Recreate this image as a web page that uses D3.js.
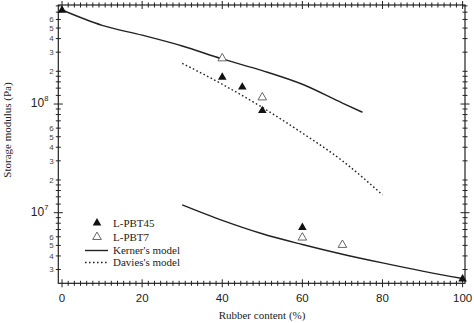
<!DOCTYPE html>
<html>
<head>
<meta charset="utf-8">
<script src="https://cdn.jsdelivr.net/npm/d3@7"></script>
<style>
  body { margin: 0; background: #fff; }
  svg { display: block; }
</style>
</head>
<body>
<div id="vis"></div>
<script>
// measured points
const pbt45X = [0, 40, 45, 50, 60, 100];
const pbt45Y = [7.3e8, 1.76e8, 1.43e8, 8.7e7, 7.3e6, 2.45e6];
const pbt7X = [40, 50, 60, 70];
const pbt7Y = [2.63e8, 1.15e8, 5.9e6, 5.05e6];

// model curves
const kernerUpX = [0, 10, 20, 30, 40, 50, 60, 70, 75];
const kernerUpY = [7.33e8, 5.3e8, 4.3e8, 3.42e8, 2.6e8, 2.03e8, 1.52e8, 1.02e8, 8.4e7];
const kernerLowX = [30, 40, 50, 60, 70, 80, 90, 100];
const kernerLowY = [1.18e7, 8.5e6, 6.4e6, 5.1e6, 4.15e6, 3.45e6, 2.9e6, 2.48e6];
const daviesX = [30, 40, 50, 60, 70, 80];
const daviesY = [2.37e8, 1.52e8, 9.3e7, 5.4e7, 3.0e7, 1.46e7];

const xTicks = [0, 20, 40, 60, 80, 100];
const decades = [1e6, 1e7, 1e8];
const decadeExp = [6, 7, 8];
const minorMult = [1.2, 1.4, 1.6, 1.8, 2, 3, 4, 5, 6, 7, 8, 9];
const labelMult = [2, 3, 4, 5, 6];
const legendNames = ['L-PBT45', 'L-PBT7', "Kerner's model", "Davies's model"];

const width = 474, height = 323;
const box = {left: 58.3, right: 465, top: 5, bottom: 283.3};

const svg = d3.select('#vis').append('svg')
    .attr('width', width)
    .attr('height', height);

const x = d3.scaleLinear()
    .domain([-0.93, 100.6])
    .range([box.left, box.right]);

const y = d3.scaleLog()
    .domain([2.24e6, 8.15e8])
    .range([box.bottom, box.top]);

const ink = '#222';

// frame
svg.append('rect')
    .attr('x', box.left)
    .attr('y', box.top)
    .attr('width', box.right - box.left)
    .attr('height', box.bottom - box.top)
    .attr('fill', 'none')
    .attr('stroke', ink)
    .attr('stroke-width', 1.2);

// x ticks, major + 12 minor between each pair
const xMinor = [];
for (let i = 0; i < xTicks.length - 1; i++) {
  const step = (xTicks[i + 1] - xTicks[i]) / 13;
  for (let k = 1; k < 13; k++) xMinor.push(xTicks[i] + k * step);
}

const tickG = svg.append('g')
    .attr('stroke', ink)
    .attr('stroke-width', 1);

[box.bottom, box.top].forEach(yy => {
  tickG.selectAll(null)
    .data(xMinor)
    .join('line')
      .attr('x1', d => x(d))
      .attr('x2', d => x(d))
      .attr('y1', yy - 2.5)
      .attr('y2', yy + 2.5);
  tickG.selectAll(null)
    .data(xTicks)
    .join('line')
      .attr('x1', d => x(d))
      .attr('x2', d => x(d))
      .attr('y1', yy - 4)
      .attr('y2', yy + 4);
});

svg.append('g')
  .selectAll('text')
  .data(xTicks)
  .join('text')
    .attr('x', d => x(d))
    .attr('y', 302)
    .attr('text-anchor', 'middle')
    .attr('font-family', 'Liberation Sans, Arial, sans-serif')
    .attr('font-size', 11.5)
    .attr('fill', ink)
    .text(d => d);

// y ticks
const [y0, y1] = y.domain();
const yMinor = [];
decades.forEach(dec => minorMult.forEach(m => {
  const v = dec * m;
  if (v > y0 && v < y1) yMinor.push(v);
}));
const yMajor = decades.filter(v => v > y0 && v < y1);

[box.left, box.right].forEach(xx => {
  tickG.selectAll(null)
    .data(yMinor)
    .join('line')
      .attr('x1', xx - 2.5)
      .attr('x2', xx + 2.5)
      .attr('y1', d => y(d))
      .attr('y2', d => y(d));
  tickG.selectAll(null)
    .data(yMajor)
    .join('line')
      .attr('x1', xx - 4.5)
      .attr('x2', xx + 4.5)
      .attr('y1', d => y(d))
      .attr('y2', d => y(d));
});

const yLabels = [];
decades.forEach(dec => labelMult.forEach(m => {
  const v = dec * m;
  if (v > y0 && v < y1) yLabels.push({v, m});
}));

svg.append('g')
  .selectAll('text')
  .data(yLabels)
  .join('text')
    .attr('x', box.left - 4.5)
    .attr('y', d => y(d.v))
    .attr('dy', '0.35em')
    .attr('text-anchor', 'end')
    .attr('font-family', 'Liberation Sans, Arial, sans-serif')
    .attr('font-size', 8)
    .attr('fill', '#444')
    .text(d => d.m);

const decLabel = svg.append('g')
  .selectAll('text')
  .data(d3.zip(decades, decadeExp).filter(([v]) => v > y0 && v < y1))
  .join('text')
    .attr('x', box.left - 10)
    .attr('y', d => y(d[0]) + 3)
    .attr('text-anchor', 'end')
    .attr('font-family', 'Liberation Sans, Arial, sans-serif')
    .attr('font-size', 12)
    .attr('fill', ink);
decLabel.append('tspan').text('10');
decLabel.append('tspan')
    .attr('dy', -6)
    .attr('font-size', 7.5)
    .text(d => d[1]);

// axis titles
svg.append('text')
    .attr('x', 262)
    .attr('y', 319)
    .attr('text-anchor', 'middle')
    .attr('font-family', 'Liberation Serif, Times New Roman, serif')
    .attr('font-size', 11)
    .attr('fill', ink)
    .text('Rubber content (%)');

svg.append('text')
    .attr('transform', 'translate(11,130) rotate(-90)')
    .attr('text-anchor', 'middle')
    .attr('font-family', 'Liberation Serif, Times New Roman, serif')
    .attr('font-size', 11)
    .attr('fill', ink)
    .text('Storage modulus (Pa)');

// curves
const line = d3.line()
    .x(d => x(d[0]))
    .y(d => y(d[1]))
    .curve(d3.curveMonotoneX);

const curves = [
  {xs: kernerUpX, ys: kernerUpY, dash: null},
  {xs: kernerLowX, ys: kernerLowY, dash: null},
  {xs: daviesX, ys: daviesY, dash: '1.6,2.4'},
];

svg.append('g')
  .selectAll('path')
  .data(curves)
  .join('path')
    .attr('d', d => line(d3.zip(d.xs, d.ys)))
    .attr('fill', 'none')
    .attr('stroke', ink)
    .attr('stroke-width', 1.4)
    .attr('stroke-dasharray', d => d.dash);

// markers
const tri = d3.symbol().type(d3.symbolTriangle).size(32);

svg.append('g')
  .selectAll('path')
  .data(d3.zip(pbt7X, pbt7Y))
  .join('path')
    .attr('transform', d => `translate(${x(d[0])},${y(d[1])})`)
    .attr('d', tri)
    .attr('fill', '#fff')
    .attr('stroke', '#555')
    .attr('stroke-width', 0.9);

svg.append('g')
  .selectAll('path')
  .data(d3.zip(pbt45X, pbt45Y))
  .join('path')
    .attr('transform', d => `translate(${x(d[0])},${y(d[1])})`)
    .attr('d', tri)
    .attr('fill', '#111');

// legend
const legend = svg.append('g')
    .attr('font-family', 'Liberation Serif, Times New Roman, serif')
    .attr('font-size', 11)
    .attr('fill', ink);

const rowY = [223, 237, 250.5, 262.5];

legend.selectAll('text')
  .data(legendNames)
  .join('text')
    .attr('x', 113)
    .attr('y', (d, i) => rowY[i])
    .attr('dy', '0.33em')
    .text(d => d);

legend.append('path')
    .attr('transform', `translate(97,${rowY[0]})`)
    .attr('d', tri)
    .attr('fill', '#111');
legend.append('path')
    .attr('transform', `translate(97,${rowY[1]})`)
    .attr('d', tri)
    .attr('fill', '#fff')
    .attr('stroke', '#555')
    .attr('stroke-width', 0.9);
legend.append('line')
    .attr('x1', 85).attr('x2', 108)
    .attr('y1', rowY[2]).attr('y2', rowY[2])
    .attr('stroke', ink)
    .attr('stroke-width', 1.4);
legend.append('line')
    .attr('x1', 85).attr('x2', 108)
    .attr('y1', rowY[3]).attr('y2', rowY[3])
    .attr('stroke', ink)
    .attr('stroke-width', 1.4)
    .attr('stroke-dasharray', '1.6,2.4');
</script>
</body>
</html>
